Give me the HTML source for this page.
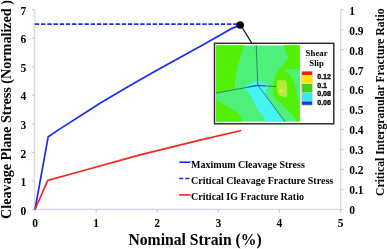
<!DOCTYPE html><html><head><meta charset="utf-8"><style>html,body{margin:0;padding:0;background:#fff;}svg{display:block;}.s{font-family:"Liberation Serif",serif;font-weight:bold;fill:#000;}.a{font-family:"Liberation Sans",sans-serif;font-weight:bold;fill:#000;}</style></head><body>
<svg width="387" height="249" viewBox="0 0 387 249">
<rect width="387" height="249" fill="#fff"/>
<line x1="34.5" y1="9.6" x2="34.5" y2="209.5" stroke="#dcdcdc" stroke-width="1.6"/>
<line x1="340.7" y1="9.6" x2="340.7" y2="209.5" stroke="#dcdcdc" stroke-width="1.4"/>
<defs><linearGradient id="xg" gradientUnits="userSpaceOnUse" x1="35" y1="0" x2="341" y2="0"><stop offset="0" stop-color="#d0d0f4"/><stop offset="0.4" stop-color="#d0d0f2"/><stop offset="0.65" stop-color="#d8d8e2"/><stop offset="1" stop-color="#dadada"/></linearGradient></defs>
<line x1="35" y1="209.4" x2="341" y2="209.4" stroke="url(#xg)" stroke-width="1.2"/>
<line x1="32" y1="209.50" x2="34.5" y2="209.50" stroke="#d0d0d0" stroke-width="1.2"/>
<text class="s" x="26.2" y="214.60" font-size="11.5" text-anchor="end">0</text>
<line x1="32" y1="180.95" x2="34.5" y2="180.95" stroke="#d0d0d0" stroke-width="1.2"/>
<text class="s" x="26.2" y="186.05" font-size="11.5" text-anchor="end">1</text>
<line x1="32" y1="152.40" x2="34.5" y2="152.40" stroke="#d0d0d0" stroke-width="1.2"/>
<text class="s" x="26.2" y="157.50" font-size="11.5" text-anchor="end">2</text>
<line x1="32" y1="123.85" x2="34.5" y2="123.85" stroke="#d0d0d0" stroke-width="1.2"/>
<text class="s" x="26.2" y="128.95" font-size="11.5" text-anchor="end">3</text>
<line x1="32" y1="95.30" x2="34.5" y2="95.30" stroke="#d0d0d0" stroke-width="1.2"/>
<text class="s" x="26.2" y="100.40" font-size="11.5" text-anchor="end">4</text>
<line x1="32" y1="66.75" x2="34.5" y2="66.75" stroke="#d0d0d0" stroke-width="1.2"/>
<text class="s" x="26.2" y="71.85" font-size="11.5" text-anchor="end">5</text>
<line x1="32" y1="38.20" x2="34.5" y2="38.20" stroke="#d0d0d0" stroke-width="1.2"/>
<text class="s" x="26.2" y="43.30" font-size="11.5" text-anchor="end">6</text>
<line x1="32" y1="9.65" x2="34.5" y2="9.65" stroke="#d0d0d0" stroke-width="1.2"/>
<text class="s" x="26.2" y="14.75" font-size="11.5" text-anchor="end">7</text>
<line x1="35.00" y1="209.5" x2="35.00" y2="212.5" stroke="#cccccc" stroke-width="1.2"/>
<text class="s" x="35.00" y="227.3" font-size="11.5" text-anchor="middle">0</text>
<line x1="96.10" y1="209.5" x2="96.10" y2="212.5" stroke="#cccccc" stroke-width="1.2"/>
<text class="s" x="96.10" y="227.3" font-size="11.5" text-anchor="middle">1</text>
<line x1="157.20" y1="209.5" x2="157.20" y2="212.5" stroke="#cccccc" stroke-width="1.2"/>
<text class="s" x="157.20" y="227.3" font-size="11.5" text-anchor="middle">2</text>
<line x1="218.30" y1="209.5" x2="218.30" y2="212.5" stroke="#cccccc" stroke-width="1.2"/>
<text class="s" x="218.30" y="227.3" font-size="11.5" text-anchor="middle">3</text>
<line x1="279.40" y1="209.5" x2="279.40" y2="212.5" stroke="#cccccc" stroke-width="1.2"/>
<text class="s" x="279.40" y="227.3" font-size="11.5" text-anchor="middle">4</text>
<line x1="340.50" y1="209.5" x2="340.50" y2="212.5" stroke="#cccccc" stroke-width="1.2"/>
<text class="s" x="340.50" y="227.3" font-size="11.5" text-anchor="middle">5</text>
<line x1="340.7" y1="209.50" x2="343.5" y2="209.50" stroke="#d0d0d0" stroke-width="1.2"/>
<text class="s" x="349.2" y="214.40" font-size="11.5">0</text>
<line x1="340.7" y1="189.51" x2="343.5" y2="189.51" stroke="#d0d0d0" stroke-width="1.2"/>
<text class="s" x="349.2" y="194.41" font-size="11.5">0.1</text>
<line x1="340.7" y1="169.53" x2="343.5" y2="169.53" stroke="#d0d0d0" stroke-width="1.2"/>
<text class="s" x="349.2" y="174.43" font-size="11.5">0.2</text>
<line x1="340.7" y1="149.55" x2="343.5" y2="149.55" stroke="#d0d0d0" stroke-width="1.2"/>
<text class="s" x="349.2" y="154.45" font-size="11.5">0.3</text>
<line x1="340.7" y1="129.56" x2="343.5" y2="129.56" stroke="#d0d0d0" stroke-width="1.2"/>
<text class="s" x="349.2" y="134.46" font-size="11.5">0.4</text>
<line x1="340.7" y1="109.58" x2="343.5" y2="109.58" stroke="#d0d0d0" stroke-width="1.2"/>
<text class="s" x="349.2" y="114.48" font-size="11.5">0.5</text>
<line x1="340.7" y1="89.59" x2="343.5" y2="89.59" stroke="#d0d0d0" stroke-width="1.2"/>
<text class="s" x="349.2" y="94.49" font-size="11.5">0.6</text>
<line x1="340.7" y1="69.60" x2="343.5" y2="69.60" stroke="#d0d0d0" stroke-width="1.2"/>
<text class="s" x="349.2" y="74.50" font-size="11.5">0.7</text>
<line x1="340.7" y1="49.62" x2="343.5" y2="49.62" stroke="#d0d0d0" stroke-width="1.2"/>
<text class="s" x="349.2" y="54.52" font-size="11.5">0.8</text>
<line x1="340.7" y1="29.64" x2="343.5" y2="29.64" stroke="#d0d0d0" stroke-width="1.2"/>
<text class="s" x="349.2" y="34.54" font-size="11.5">0.9</text>
<line x1="340.7" y1="9.65" x2="343.5" y2="9.65" stroke="#d0d0d0" stroke-width="1.2"/>
<text class="s" x="349.2" y="14.55" font-size="11.5">1</text>
<text class="s" x="128.4" y="245.4" font-size="15.7">Nominal Strain (%)</text>
<text class="s" transform="translate(11.3,218.9) rotate(-90)" x="0" y="0" font-size="14.15">Cleavage Plane Stress (Normalized )</text>
<text class="s" transform="translate(384.2,196) rotate(-90)" x="0" y="0" font-size="11.7">Critical Intergranular Fracture Ratio</text>
<polyline points="34.9,24.2 240,24.2" fill="none" stroke="#1a2cf0" stroke-width="1.7" stroke-dasharray="4.3,1.9"/>
<polyline points="35,209.5 48.2,136.7 60,128.9 86,112.2 100,103.2 130,85.6 160,68.4 200,46.4 230,29.4 240,24.9" fill="none" stroke="#1a2cf0" stroke-width="1.7" stroke-linejoin="round"/>
<polyline points="35,209.5 47.8,180.4 80,171.5 140,154.9 200,140.1 241.3,130.5" fill="none" stroke="#f5281e" stroke-width="1.7" stroke-linejoin="round"/>
<line x1="179.3" y1="162.2" x2="190.4" y2="162.2" stroke="#1a2cf0" stroke-width="1.6"/>
<line x1="179.1" y1="178.45" x2="190.4" y2="178.45" stroke="#1a2cf0" stroke-width="1.6" stroke-dasharray="4.2,1.95"/>
<line x1="179.1" y1="194.9" x2="190.9" y2="194.9" stroke="#f5281e" stroke-width="1.6"/>
<text class="s" x="191.1" y="167.8" font-size="10">Maximum Cleavage Stress</text>
<text class="s" x="191.1" y="184" font-size="10">Critical Cleavage Fracture Stress</text>
<text class="s" x="191.1" y="200" font-size="10">Critical IG Fracture Ratio</text>
<line x1="240.6" y1="25" x2="252" y2="43.5" stroke="#111" stroke-width="1.3"/>
<circle cx="240.2" cy="25" r="3.8" fill="#000"/>
<rect x="214.5" y="43.3" width="119.3" height="80.5" fill="#fff" stroke="#2a2a2a" stroke-width="1.45"/>
<svg x="216" y="45.3" width="83.8" height="76.5" viewBox="216 45.3 83.8 76.5" overflow="hidden">
<rect x="216" y="45.3" width="83.8" height="76.5" fill="#4EF07A"/>
<polygon points="216,45 244.8,45 241,55 238,65 236,75 235,83 235,89.5 242,88 216,93.1" fill="#52F006"/>
<polygon points="216,99.8 220.4,102.2 227.7,106.4 234.9,110.7 239.1,114.3 240.9,117.9 242.1,122 216,122" fill="#52F006"/>
<polygon points="283.3,45 300,45 300,122 297,122 292.7,115 287.4,109.8 280.4,102.7 275.5,99.5 273.4,95.2 272.8,90 273.3,82 275.5,76 278,70.5 283.8,63.8 288.6,58.2" fill="#52F006"/>
<polygon points="300,68.7 282.7,69.8 289.5,74.5 292.9,79.3 294.8,84 296.3,90 297.5,97.4 300,103.5" fill="#4EF07A"/>
<polygon points="277.3,80.3 285.5,80.3 286.4,82.7 287.2,87.5 287.4,95.2 286.4,97.2 278.7,95.2 277.8,92.3 277.3,88.5" fill="#B4EE3A"/>
<ellipse cx="281.2" cy="90.4" rx="1.6" ry="1.4" fill="#f6ee10"/>
<circle cx="279.4" cy="83.5" r="0.55" fill="#a8d0c0"/>
<circle cx="282.6" cy="82.5" r="0.55" fill="#a8d0c0"/>
<circle cx="283.5" cy="86.2" r="0.55" fill="#a8d0c0"/>
<circle cx="280.3" cy="87.3" r="0.55" fill="#a8d0c0"/>
<circle cx="285.4" cy="85.5" r="0.55" fill="#a8d0c0"/>
<circle cx="278.5" cy="89.3" r="0.55" fill="#a8d0c0"/>
<circle cx="286.3" cy="90.4" r="0.55" fill="#a8d0c0"/>
<circle cx="285.4" cy="93.4" r="0.55" fill="#a8d0c0"/>
<circle cx="283.5" cy="94.3" r="0.55" fill="#a8d0c0"/>
<circle cx="279.4" cy="94.3" r="0.55" fill="#a8d0c0"/>
<circle cx="255.5" cy="92.5" r="0.5" fill="#c8fcfc"/>
<circle cx="258.5" cy="97.5" r="0.5" fill="#c8fcfc"/>
<circle cx="261" cy="101" r="0.5" fill="#c8fcfc"/>
<circle cx="263.5" cy="106" r="0.5" fill="#c8fcfc"/>
<circle cx="257" cy="100.5" r="0.5" fill="#c8fcfc"/>
<circle cx="266.5" cy="110" r="0.5" fill="#c8fcfc"/>
<circle cx="269" cy="114" r="0.5" fill="#c8fcfc"/>
<circle cx="262" cy="113" r="0.5" fill="#c8fcfc"/>
<circle cx="272" cy="118.5" r="0.5" fill="#c8fcfc"/>
<circle cx="266" cy="117.5" r="0.5" fill="#c8fcfc"/>
<circle cx="260" cy="89.5" r="0.5" fill="#c8fcfc"/>
<polygon points="242.8,87.9 247.8,85 252,83 256,81 258.5,80.6 261,81.8 265.5,83.8 269.5,85.8 266.5,88.5 266,95.5 285.2,122 266.1,122 260.7,113 256.3,108 254.8,103.3 252.9,99.4 250.5,95.6 247.6,91.7" fill="#44F4F0"/>
<polyline points="256.2,45 257.8,85.4" fill="none" stroke="#2B7F66" stroke-width="0.95"/>
<polyline points="216,93.1 236,89.3 246,87.6 257.8,85.4 275.8,86.6" fill="none" stroke="#2B7F66" stroke-width="0.95"/>
<polyline points="257.8,85.4 265.6,95.5 285.2,122" fill="none" stroke="#2B7F66" stroke-width="0.95"/>
<polyline points="248.5,86.9 257.8,85.4 265.5,85.95" fill="none" stroke="#2a5ab8" stroke-width="1.1" opacity="0.85"/>
</svg>
<rect x="301.8" y="71.2" width="10.4" height="4.00" fill="#f01e14"/>
<rect x="301.8" y="75.4" width="10.4" height="8.00" fill="#ffe600"/>
<rect x="301.8" y="83.8" width="10.4" height="8.80" fill="#46d214"/>
<rect x="301.8" y="92.9" width="10.4" height="8.30" fill="#3ce8f0"/>
<rect x="301.8" y="101.4" width="10.4" height="3.70" fill="#1438e6"/>
<rect x="301.8" y="71.4" width="10.4" height="33.6" fill="none" stroke="#bbb" stroke-width="0.5"/>
<text class="s" x="316.6" y="56" font-size="8.8" text-anchor="middle">Shear</text>
<text class="s" x="316.6" y="65.6" font-size="8.8" text-anchor="middle">Slip</text>
<text class="a" x="317.2" y="79" font-size="7.1" stroke="#000" stroke-width="0.3">0.12</text>
<text class="a" x="317.2" y="87.6" font-size="7.1" stroke="#000" stroke-width="0.3">0.1</text>
<text class="a" x="317.2" y="96" font-size="7.1" stroke="#000" stroke-width="0.3">0.08</text>
<text class="a" x="317.2" y="104.5" font-size="7.1" stroke="#000" stroke-width="0.3">0.06</text>
</svg></body></html>
